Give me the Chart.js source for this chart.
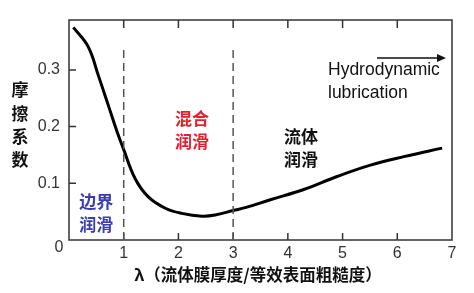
<!DOCTYPE html>
<html>
<head>
<meta charset="utf-8">
<script src="https://cdn.jsdelivr.net/npm/chart.js@4.4.1/dist/chart.umd.min.js"></script>
<style>
  html, body { margin: 0; padding: 0; background: #fff; }
  #wrap { width: 474px; height: 293px; }
</style>
</head>
<body>
<div id="wrap"><canvas id="stribeck" width="474" height="293"></canvas></div>
<script>
// Stribeck curve
const lambdaVals = [0.08, 0.35, 0.54, 0.72, 0.90, 0.99, 1.21, 1.45, 1.76, 2.06, 2.43, 2.67, 3.0, 3.22, 3.68, 4.29, 4.9, 5.51, 6.12, 6.82];
const frictionVals = [0.375, 0.341, 0.289, 0.237, 0.185, 0.162, 0.108, 0.076, 0.056, 0.047, 0.042, 0.044, 0.052, 0.057, 0.071, 0.089, 0.112, 0.132, 0.147, 0.162];
const xTicks = [0, 1, 2, 3, 4, 5, 6, 7];
const yTicks = [0.1, 0.2, 0.3];
const regimeBounds = [1, 3];

const cjk = '"Noto Sans CJK SC", sans-serif';
const latin = '"Liberation Sans", Arial, sans-serif';
const axisColor = "#333";

const points = lambdaVals.map((x, i) => ({ x: x, y: frictionVals[i] }));

const decor = {
  id: "decor",
  afterDraw(chart) {
    const ctx = chart.ctx;
    const a = chart.chartArea;
    const xs = chart.scales.x;
    const ys = chart.scales.y;
    ctx.save();

    // frame
    ctx.strokeStyle = axisColor;
    ctx.lineWidth = 1.5;
    ctx.strokeRect(a.left, a.top, a.right - a.left, a.bottom - a.top);

    // inward ticks
    ctx.beginPath();
    xTicks.slice(1, -1).forEach(v => {
      const px = xs.getPixelForValue(v);
      ctx.moveTo(px, a.bottom); ctx.lineTo(px, a.bottom - 7);
      ctx.moveTo(px, a.top); ctx.lineTo(px, a.top + 8);
    });
    yTicks.forEach(v => {
      const py = ys.getPixelForValue(v);
      ctx.moveTo(a.left, py); ctx.lineTo(a.left + 7, py);
    });
    ctx.stroke();

    // regime boundaries
    ctx.setLineDash([8, 5]);
    ctx.strokeStyle = "#555";
    ctx.beginPath();
    regimeBounds.forEach(v => {
      const px = xs.getPixelForValue(v);
      ctx.moveTo(px, a.top + 30); ctx.lineTo(px, a.bottom);
    });
    ctx.stroke();
    ctx.setLineDash([]);

    // corner zero
    ctx.fillStyle = "#333";
    ctx.font = "16px " + latin;
    ctx.textAlign = "center";
    ctx.textBaseline = "middle";
    ctx.fillText("0", a.left - 10, a.bottom + 8);

    // y title, stacked
    ctx.fillStyle = "#111";
    ctx.font = "bold 17px " + cjk;
    ["摩", "擦", "系", "数"].forEach((ch, i) => ctx.fillText(ch, 20, 90 + i * 23.3));

    // x title
    ctx.font = "bold 16.5px " + cjk;
    ctx.fillText("λ（流体膜厚度/等效表面粗糙度）", 258, 275);

    // regime labels
    const lab = (lines, x, y, color) => {
      ctx.fillStyle = color;
      ctx.font = "bold 17px " + cjk;
      lines.forEach((t, i) => ctx.fillText(t, xs.getPixelForValue(x), ys.getPixelForValue(y) + i * 23));
    };
    lab(["混合", "润滑"], 2.25, 0.215, "#e3202c");
    lab(["流体", "润滑"], 4.24, 0.182, "#111");
    lab(["边界", "润滑"], 0.5, 0.067, "#3a3db3");

    // hydrodynamic note + arrow
    ctx.fillStyle = "#111";
    ctx.font = "17.5px " + latin;
    ctx.textAlign = "left";
    ctx.fillText("Hydrodynamic", 328, 70);
    ctx.fillText("lubrication", 328, 93);

    ctx.strokeStyle = "#111";
    ctx.lineWidth = 1.6;
    ctx.beginPath();
    ctx.moveTo(377, 58); ctx.lineTo(440, 58);
    ctx.stroke();
    ctx.beginPath();
    ctx.moveTo(446, 58); ctx.lineTo(437, 54); ctx.lineTo(437, 62); ctx.closePath();
    ctx.fill();

    ctx.restore();
  }
};

new Chart(document.getElementById("stribeck"), {
  type: "line",
  data: {
    datasets: [{
      data: points,
      borderColor: "#000",
      borderWidth: 3,
      pointRadius: 0,
      fill: false,
      tension: 0.4
    }]
  },
  options: {
    responsive: false,
    animation: false,
    devicePixelRatio: 1,
    layout: { padding: { top: 20, right: 22, left: 0, bottom: 0 } },
    plugins: { legend: { display: false }, tooltip: { enabled: false } },
    scales: {
      x: {
        type: "linear",
        min: 0,
        max: 7,
        afterBuildTicks: s => { s.ticks = xTicks.map(v => ({ value: v })); },
        afterFit: s => { s.height = 53; },
        grid: { display: false, drawTicks: false },
        border: { display: false },
        ticks: {
          padding: 4,
          color: "#333",
          font: { family: latin, size: 16 },
          callback: v => (v === 0 ? "" : String(v))
        }
      },
      y: {
        min: 0,
        max: 0.388,
        afterBuildTicks: s => { s.ticks = yTicks.map(v => ({ value: v })); },
        afterFit: s => { s.width = 69; },
        grid: { display: false, drawTicks: false },
        border: { display: false },
        ticks: {
          padding: 9,
          color: "#333",
          font: { family: latin, size: 16 },
          callback: v => v.toFixed(1)
        }
      }
    }
  },
  plugins: [decor]
});
</script>
</body>
</html>
